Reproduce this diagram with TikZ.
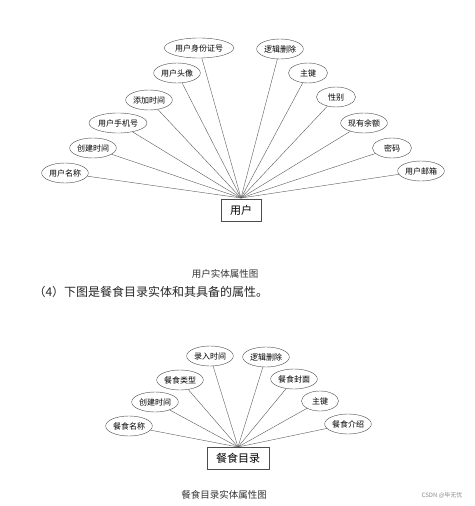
\documentclass[tikz,border=0pt]{standalone}
\usepackage{fontspec}
\setmainfont{Noto Sans CJK SC}
\usepackage{tikz}
\usetikzlibrary{shapes.geometric}
\tikzset{
attr/.style={
 ellipse,
 draw=black!70,
 fill=white,
 minimum width=39pt,
 minimum height=20pt,
 inner sep=0.5pt,
 font=\fontsize{8}{9}\selectfont
 },
entity/.style={
 rectangle,
 draw=black!70,
 fill=white,
 minimum height=22pt,
 inner xsep=5pt,
 font=\fontsize{11}{12}\selectfont
 },
spoke/.style={
 draw=black!65,
 line width=0.4pt
 },
caption/.style={
 text=black!80,
 font=\fontsize{9.5}{11}\selectfont
 }
}

\begin{document}
\begin{tikzpicture}[x=1pt,y=-1pt]
\useasboundingbox (0,0) rectangle (474,506);
% user entity
\node[entity,minimum width=40pt] (user) at (241,210) {用户};
\coordinate (uhub) at (241,198);
\node[attr] (u1) at (65,173) {用户名称};
\node[attr] (u2) at (93,148) {创建时间};
\node[attr,minimum width=44pt] (u3) at (118,123) {用户手机号};
\node[attr] (u4) at (149,100) {添加时间};
\node[attr] (u5) at (177,73) {用户头像};
\node[attr,minimum width=50pt] (u6) at (199,48) {用户身份证号};
\node[attr] (u7) at (280,49) {逻辑删除};
\node[attr] (u8) at (308,73) {主键};
\node[attr] (u9) at (336,97) {性别};
\node[attr] (u10) at (364,123) {现有余额};
\node[attr] (u11) at (392,148) {密码};
\node[attr] (u12) at (421,171) {用户邮箱};
\foreach \i in {1,...,12}
 \draw[spoke] (u\i) -- (uhub);
\node[caption] (ucap) at (225,274) {用户实体属性图};
\node[font=\fontsize{12}{13}\selectfont,text=black!85,anchor=west] (intro) at (30,292) {（4）下图是餐食目录实体和其具备的属性。};
% meal catalogue entity
\node[entity,minimum width=62pt] (meal) at (238,458) {餐食目录};
\coordinate (mhub) at (238,447);
\node[attr,minimum width=37pt] (m1) at (129,426) {餐食名称};
\node[attr,minimum width=37pt] (m2) at (155,402) {创建时间};
\node[attr,minimum width=37pt] (m3) at (180,380) {餐食类型};
\node[attr,minimum width=37pt] (m4) at (210,356) {录入时间};
\node[attr,minimum width=37pt] (m5) at (266,357) {逻辑删除};
\node[attr,minimum width=37pt] (m6) at (294,379) {餐食封面};
\node[attr,minimum width=37pt] (m7) at (320,401) {主键};
\node[attr,minimum width=37pt] (m8) at (348,424) {餐食介绍};
\foreach \i in {1,...,8}
 \draw[spoke] (m\i) -- (mhub);
\node[caption] (mcap) at (224,495) {餐食目录实体属性图};
\node[font=\fontsize{6}{7}\selectfont,text=black!45,anchor=east] (mark) at (466,495) {CSDN @毕无忧};
\end{tikzpicture}
\end{document}
